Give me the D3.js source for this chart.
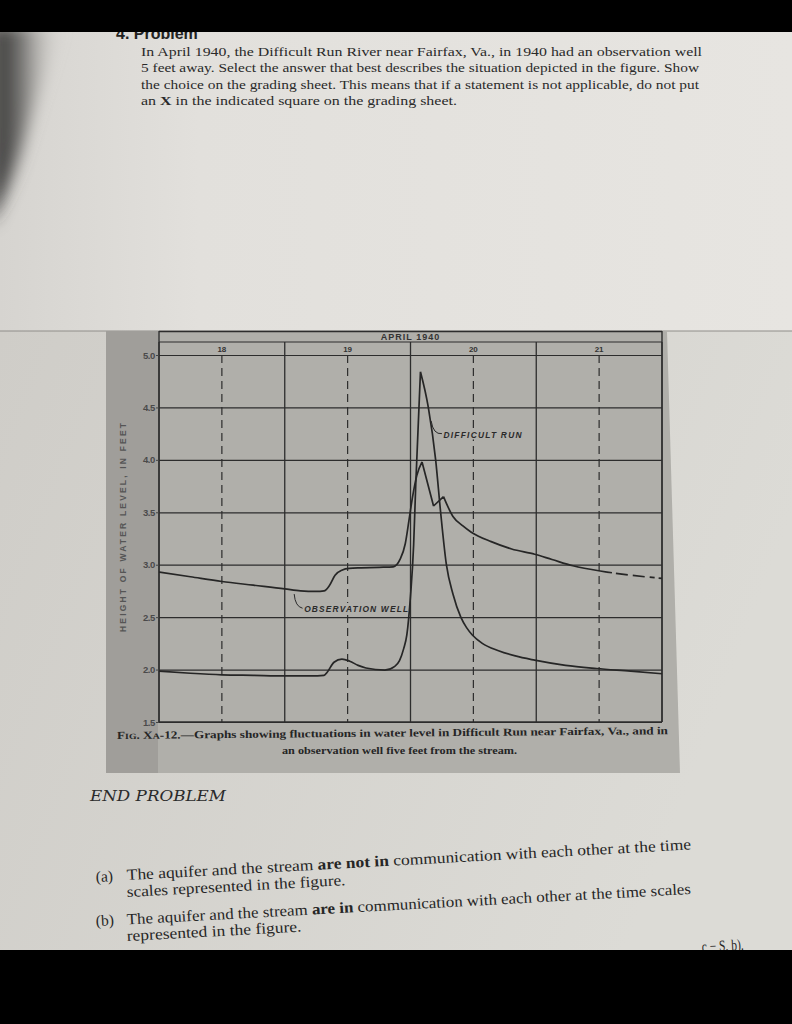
<!DOCTYPE html>
<html>
<head>
<meta charset="utf-8">
<script src="https://cdn.jsdelivr.net/npm/d3@7/dist/d3.min.js"></script>
<style>
html,body{margin:0;padding:0;background:#000;}
svg{display:block;}
</style>
</head>
<body>
<script>
// ---------------- data ----------------
const chartMonth = "APRIL 1940";
const dayLabels = ["18", "19", "20", "21"];
const noonHours = [12, 36, 60, 84];
const midnightHours = [0, 24, 48, 72, 96];
const yTickValues = [1.5, 2.0, 2.5, 3.0, 3.5, 4.0, 4.5, 5.0];
const yTickLabels = ["1.5", "2.0", "2.5", "3.0", "3.5", "4.0", "4.5", "5.0"];
const yTitle = "HEIGHT OF WATER LEVEL, IN FEET";

// Observation well (hours after 0h April 18, feet)
const wellHours = [0, 6, 12, 18, 24, 27, 30, 31.5, 32.5, 33.6, 35, 36.3, 38.6, 42, 44.7, 46, 47, 47.7, 48.4, 49.2, 50.2, 52.4, 54.3, 56.1, 58, 59.6, 63.4, 67.3, 71.7, 75, 79, 84.2, 85.5, 90, 96];
const wellFeet  = [2.93, 2.885, 2.84, 2.805, 2.77, 2.75, 2.745, 2.75, 2.8, 2.9, 2.95, 2.965, 2.97, 2.975, 2.98, 3.05, 3.2, 3.42, 3.65, 3.85, 3.98, 3.56, 3.65, 3.46, 3.37, 3.31, 3.22, 3.15, 3.1, 3.05, 2.99, 2.94, 2.93, 2.9, 2.87];
const wellCorners = [50.2, 52.4, 54.3];
const wellDashedFrom = 85.5;

// Difficult Run (stream)
const runHours = [0, 6, 12, 18, 24, 29, 31.5, 32.1, 33.4, 34.9, 36.4, 38, 39.5, 43.1, 45, 45.9, 46.7, 47.3, 48.0, 48.6, 49.0, 49.9, 51.4, 52.8, 53.75, 54.85, 56.1, 57.6, 58.7, 59.8, 61.7, 64.8, 68, 71.7, 77.6, 83.5, 90, 96];
const runFeet  = [1.985, 1.965, 1.95, 1.945, 1.94, 1.94, 1.945, 1.975, 2.07, 2.1, 2.08, 2.04, 2.015, 1.995, 2.03, 2.085, 2.2, 2.33, 2.7, 3.19, 3.76, 4.84, 4.5, 4.0, 3.5, 3.0, 2.72, 2.5, 2.4, 2.33, 2.25, 2.18, 2.13, 2.09, 2.04, 2.01, 1.985, 1.96];
const runCorners = [49.9];

const paragraphLines = [
  "In April 1940, the Difficult Run River near Fairfax, Va., in 1940 had an observation well",
  "5 feet away. Select the answer that best describes the situation depicted in the figure. Show",
  "the choice on the grading sheet. This means that if a statement is not applicable, do not put"
];
const captionLine1 = "\u2014Graphs showing fluctuations in water level in Difficult Run near Fairfax, Va., and in";
const captionLine2 = "an observation well five feet from the stream.";

// ---------------- drawing ----------------
const W = 792, H = 1024;
const svg = d3.select("body").append("svg").attr("width", W).attr("height", H);
const defs = svg.append("defs");

const gTop = defs.append("linearGradient").attr("id", "topPaper").attr("x1", 0).attr("x2", 1).attr("y1", 0).attr("y2", 0);
gTop.append("stop").attr("offset", 0).attr("stop-color", "#d6d4d0");
gTop.append("stop").attr("offset", 0.25).attr("stop-color", "#e2e0dc");
gTop.append("stop").attr("offset", 1).attr("stop-color", "#e7e5e1");

const gLow = defs.append("linearGradient").attr("id", "lowPaper").attr("x1", 0).attr("x2", 1).attr("y1", 0).attr("y2", 0.3);
gLow.append("stop").attr("offset", 0).attr("stop-color", "#cfcdc8");
gLow.append("stop").attr("offset", 1).attr("stop-color", "#dcdbd6");

const gShadow = defs.append("linearGradient").attr("id", "shadow").attr("x1", 0).attr("x2", 1).attr("y1", 0).attr("y2", 0);
gShadow.append("stop").attr("offset", 0).attr("stop-color", "#2c2c2c");
gShadow.append("stop").attr("offset", 0.4).attr("stop-color", "#6a6967");
gShadow.append("stop").attr("offset", 1).attr("stop-color", "#d6d4d0").attr("stop-opacity", 0);
defs.append("filter").attr("id", "blur").attr("x", "-50%").attr("y", "-20%").attr("width", "200%").attr("height", "140%")
  .append("feGaussianBlur").attr("stdDeviation", 8);

// papers
svg.append("rect").attr("x", 0).attr("y", 0).attr("width", W).attr("height", H).attr("fill", "#000");
svg.append("rect").attr("x", 0).attr("y", 30).attr("width", W).attr("height", 302).attr("fill", "url(#topPaper)");
svg.append("path").attr("d", "M-10,25 L62,25 C48,60 36,100 24,140 C15,170 6,195 -10,225 Z")
  .attr("fill", "url(#shadow)").attr("filter", "url(#blur)");
svg.append("rect").attr("x", 0).attr("y", 331).attr("width", W).attr("height", 620).attr("fill", "url(#lowPaper)");
svg.append("line").attr("x1", 0).attr("x2", W).attr("y1", 331).attr("y2", 331).attr("stroke", "#8f8e8a").attr("stroke-width", 1.2);

// figure gray halftone region
const grayFill = "#b0afaa";
svg.append("path").attr("d", "M106,331 L667,331 L680,773 L106,773 Z").attr("fill", grayFill);
svg.append("rect").attr("x", 106).attr("y", 331).attr("width", 52).attr("height", 442).attr("fill", "#a09e9a");

// problem text
const serif = "'Liberation Serif','DejaVu Serif',serif";
svg.append("text").attr("x", 116).attr("y", 39).attr("font-family", "'Liberation Sans',sans-serif")
  .attr("font-weight", "bold").attr("font-size", 16).attr("fill", "#222").text("4.  Problem");
svg.append("rect").attr("x", 0).attr("y", 0).attr("width", W).attr("height", 32).attr("fill", "#000");

const para = svg.append("g").attr("font-family", serif).attr("font-size", 13.4).attr("fill", "#2a2a2a");
const paraBase = [55.5, 72, 88.5];
paragraphLines.forEach((t, i) => {
  para.append("text").attr("x", 141).attr("y", paraBase[i]).attr("textLength", i === 0 ? 561 : 558)
    .attr("lengthAdjust", "spacingAndGlyphs").text(t);
});
const l4 = para.append("text").attr("x", 141).attr("y", 105).attr("textLength", 316).attr("lengthAdjust", "spacingAndGlyphs");
l4.append("tspan").text("an ");
l4.append("tspan").attr("font-weight", "bold").text("X");
l4.append("tspan").text(" in the indicated square on the grading sheet.");

// ---------------- chart ----------------
const L = 159, R = 662, T = 355, B = 722;
const headTop = 331, headMid = 342;
const x = d3.scaleLinear().domain([0, 96]).range([L, R]);
const y = d3.scaleLinear().domain([1.5, 5.0]).range([B, T]);
const ink = "#2d2d2d";

const chart = svg.append("g");

// horizontal grid
const hg = chart.append("g").attr("transform", `translate(${L},0)`)
  .call(d3.axisLeft(y).tickValues(yTickValues).tickSize(-(R - L)).tickFormat(""));
hg.select(".domain").remove();
hg.selectAll("line").attr("stroke", ink).attr("stroke-width", 1.2);

// vertical solid (day boundaries) and dashed (noon)
chart.selectAll("line.mid").data(midnightHours).join("line").attr("class", "mid")
  .attr("x1", d => x(d)).attr("x2", d => x(d)).attr("y1", headMid).attr("y2", B)
  .attr("stroke", ink).attr("stroke-width", 1.3);
chart.selectAll("line.noon").data(noonHours).join("line").attr("class", "noon")
  .attr("x1", d => x(d)).attr("x2", d => x(d)).attr("y1", T).attr("y2", B)
  .attr("stroke", ink).attr("stroke-width", 1.2).attr("stroke-dasharray", "8,5");

// header box
chart.append("line").attr("x1", L).attr("x2", R).attr("y1", headTop + 0.5).attr("y2", headTop + 0.5).attr("stroke", ink).attr("stroke-width", 1.4);
chart.append("line").attr("x1", L).attr("x2", R).attr("y1", headMid).attr("y2", headMid).attr("stroke", ink).attr("stroke-width", 1.2);
chart.append("line").attr("x1", L).attr("x2", L).attr("y1", headTop).attr("y2", B).attr("stroke", ink).attr("stroke-width", 1.4);
chart.append("line").attr("x1", R).attr("x2", R).attr("y1", headTop).attr("y2", B).attr("stroke", ink).attr("stroke-width", 1.4);
chart.append("line").attr("x1", L).attr("x2", R).attr("y1", B).attr("y2", B).attr("stroke", ink).attr("stroke-width", 1.4);

const sans = "'Liberation Sans','DejaVu Sans',sans-serif";
chart.append("text").attr("x", x(48)).attr("y", 340).attr("text-anchor", "middle")
  .attr("font-family", sans).attr("font-weight", "bold").attr("font-size", 9)
  .attr("letter-spacing", 1).attr("fill", "#333").text(chartMonth);
chart.selectAll("text.day").data(dayLabels).join("text").attr("class", "day")
  .attr("x", (d, i) => x(noonHours[i])).attr("y", 352).attr("text-anchor", "middle")
  .attr("font-family", sans).attr("font-weight", "bold").attr("font-size", 8)
  .attr("fill", "#333").text(d => d);

// y axis labels
const ya = chart.append("g").attr("transform", `translate(${L},0)`)
  .call(d3.axisLeft(y).tickValues(yTickValues).tickFormat((d, i) => yTickLabels[i]).tickSize(3).tickPadding(1));
ya.select(".domain").remove();
ya.selectAll("line").attr("stroke", "#444").attr("stroke-width", 1);
ya.selectAll("text").attr("font-family", sans).attr("font-weight", "bold").attr("font-size", 9.5)
  .attr("fill", "#4a4a4a").attr("letter-spacing", -0.4);

chart.append("text").attr("transform", `translate(126,${(423 + 632) / 2}) rotate(-90)`)
  .attr("text-anchor", "middle").attr("font-family", sans).attr("font-weight", "bold")
  .attr("font-size", 8.5).attr("fill", "#555").attr("textLength", 209).attr("lengthAdjust", "spacing")
  .text(yTitle);

// label knockouts (the printed labels interrupt the grid lines)
chart.append("rect").attr("x", x(54.2)).attr("y", y(4.29)).attr("width", 80).attr("height", 10).attr("fill", grayFill);
chart.append("rect").attr("x", x(27.6)).attr("y", y(2.635)).attr("width", 106).attr("height", 10).attr("fill", grayFill);

// curves
function seg(hs, vs, corners, from, to) {
  const pts = hs.map((h, i) => [h, vs[i]]).filter(p => p[0] >= from && p[0] <= to);
  const cuts = [from, ...corners.filter(c => c > from && c < to), to];
  const out = [];
  for (let i = 0; i < cuts.length - 1; i++) out.push(pts.filter(p => p[0] >= cuts[i] && p[0] <= cuts[i + 1]));
  return out;
}
const line = d3.line().x(d => x(d[0])).y(d => y(d[1])).curve(d3.curveMonotoneX);

const runPath = seg(runHours, runFeet, runCorners, 0, 96).map(s => line(s)).join("");
chart.append("path").attr("d", runPath).attr("fill", "none").attr("stroke", "#262626")
  .attr("stroke-width", 1.7).attr("stroke-linejoin", "miter");

const wellSolid = seg(wellHours, wellFeet, wellCorners, 0, wellDashedFrom).map(s => line(s)).join("");
chart.append("path").attr("d", wellSolid).attr("fill", "none").attr("stroke", "#262626")
  .attr("stroke-width", 1.7).attr("stroke-linejoin", "miter");
const wellDash = seg(wellHours, wellFeet, [], wellDashedFrom, 96).map(s => line(s)).join("");
chart.append("path").attr("d", wellDash).attr("fill", "none").attr("stroke", "#262626")
  .attr("stroke-width", 1.7).attr("stroke-dasharray", "5,4,12,5,12,5");

// annotations
function hook(a, c, b) {
  const p = d3.path();
  p.moveTo(x(a[0]), y(a[1]));
  p.quadraticCurveTo(x(c[0]), y(c[1]), x(b[0]), y(b[1]));
  return p.toString();
}
chart.append("path").attr("d", hook([51.95, 4.37], [52.35, 4.24], [54.0, 4.25]))
  .attr("fill", "none").attr("stroke", "#2a2a2a").attr("stroke-width", 1);
chart.append("text").attr("x", x(54.3)).attr("y", y(4.205)).attr("font-family", sans)
  .attr("font-style", "italic").attr("font-weight", "bold").attr("font-size", 8.4)
  .attr("fill", "#2a2a2a").attr("textLength", 78).attr("lengthAdjust", "spacing").text("DIFFICULT RUN");

chart.append("path").attr("d", hook([25.8, 2.72], [26.0, 2.6], [27.4, 2.585]))
  .attr("fill", "none").attr("stroke", "#2a2a2a").attr("stroke-width", 1);
chart.append("text").attr("x", x(27.7)).attr("y", y(2.55)).attr("font-family", sans)
  .attr("font-style", "italic").attr("font-weight", "bold").attr("font-size", 8.4)
  .attr("fill", "#2a2a2a").attr("textLength", 104).attr("lengthAdjust", "spacing").text("OBSERVATION WELL");

// caption
const cap = svg.append("g").attr("font-family", serif).attr("font-weight", "bold").attr("fill", "#252525");
const c1 = cap.append("text").attr("x", 117).attr("y", 739).attr("font-size", 10.8)
  .attr("textLength", 551).attr("lengthAdjust", "spacingAndGlyphs")
  .attr("transform", "rotate(-0.5,117,739)");
c1.append("tspan").attr("font-variant", "small-caps").text("Fig. Xa-12.");
c1.append("tspan").text(captionLine1);
cap.append("text").attr("x", 282).attr("y", 753.5).attr("font-size", 10.8)
  .attr("textLength", 235).attr("lengthAdjust", "spacingAndGlyphs").text(captionLine2);

// end problem
svg.append("text").attr("x", 90).attr("y", 801).attr("font-family", "'DejaVu Serif',serif")
  .attr("font-style", "italic").attr("font-size", 15).attr("fill", "#2a2a2a")
  .attr("textLength", 136).attr("lengthAdjust", "spacingAndGlyphs").text("END PROBLEM");

// options
const opt = svg.append("g").attr("font-family", serif).attr("font-size", 15.5).attr("fill", "#262626");
function optLine(x0, y0, parts, len) {
  const t = opt.append("text").attr("x", x0).attr("y", y0).attr("transform", `rotate(-3.1,${x0},${y0})`);
  if (len) t.attr("textLength", len).attr("lengthAdjust", "spacingAndGlyphs");
  parts.forEach(p => t.append("tspan").attr("font-weight", p.b ? "bold" : null).text(p.t));
}
optLine(96, 882, [{ t: "(a)" }]);
optLine(127, 880, [{ t: "The aquifer and the stream " }, { t: "are not in", b: true }, { t: " communication with each other at the time" }], 565);
optLine(127, 897, [{ t: "scales represented in the figure." }], 219);
optLine(96, 926, [{ t: "(b)" }]);
optLine(127, 924.5, [{ t: "The aquifer and the stream " }, { t: "are in", b: true }, { t: " communication with each other at the time scales" }], 565);
optLine(127, 941, [{ t: "represented in the figure." }], 175);
optLine(702, 952, [{ t: "c \u2212 S, b)." }], 42);

// bottom black
svg.append("rect").attr("x", 0).attr("y", 950).attr("width", W).attr("height", 74).attr("fill", "#000");
</script>
</body>
</html>
